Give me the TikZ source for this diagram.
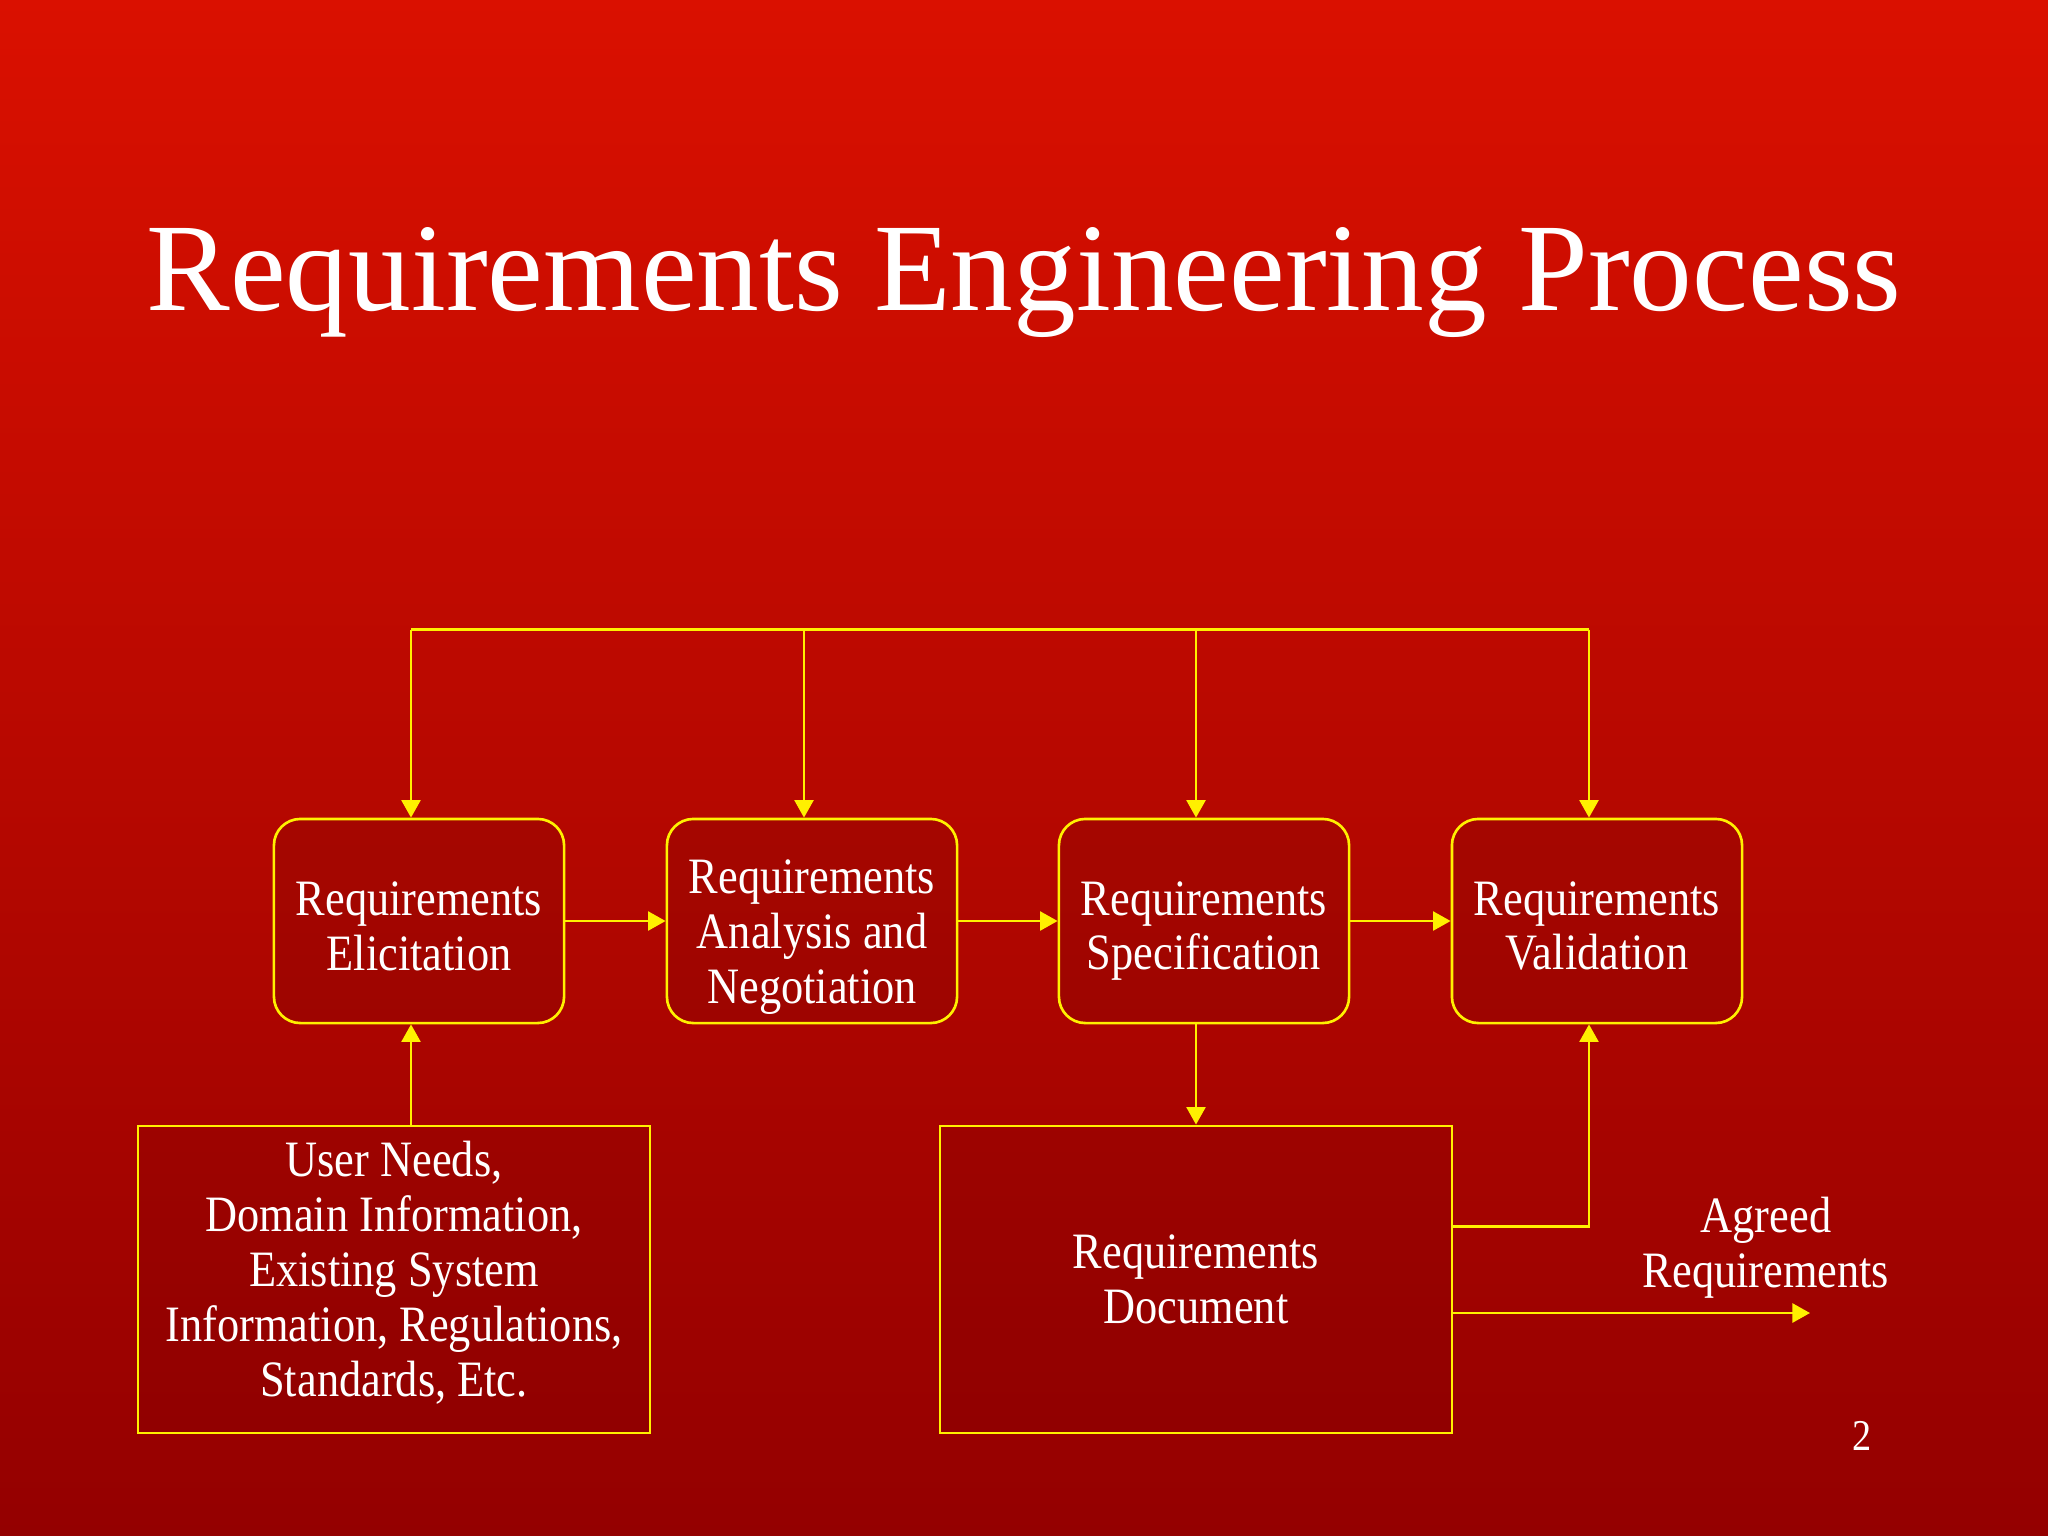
\documentclass[tikz,border=0pt]{standalone}
\usepackage{fontspec}
\setmainfont{Liberation Serif}
\newfontfamily\boxfont[FakeStretch=0.87]{Liberation Serif}
\usetikzlibrary{arrows.meta,calc}
\definecolor{bgtop}{RGB}{218,16,0}
\definecolor{bgbot}{RGB}{148,0,0}
\definecolor{ylw}{RGB}{255,240,0}
\tikzset{
  conn/.style={draw=ylw,line width=0.75pt},
  arr/.style={conn,-{Triangle[length=5pt,width=5.4pt]}},
  procbox/.style={draw=ylw,line width=0.75pt,rounded corners=7.5pt,
    fill=black,fill opacity=0.08,
    minimum width=2.9cm,minimum height=2.04cm,inner sep=0pt},
  databox/.style={draw=ylw,line width=0.75pt,
    fill=black,fill opacity=0.05,
    minimum width=5.12cm,minimum height=3.07cm,inner sep=0pt},
  plaintext/.style={text=white,align=center,inner sep=0pt,
    font=\boxfont\fontsize{14.5}{15.6}\selectfont}
}
\begin{document}
\begin{tikzpicture}[x=0.01cm,y=-0.01cm]
\useasboundingbox (0,0) rectangle (2048,1536);
\shade[top color=bgtop,bottom color=bgbot] (0,0) rectangle (2048,1536);

\node[text=white,anchor=base,inner sep=0pt,font=\fontsize{35.65}{40}\selectfont] (title) at (1024,310) {Requirements Engineering Process};

\node[procbox] (b1) at (419,921) {};
\node[procbox] (b2) at (812,921) {};
\node[procbox] (b3) at (1204,921) {};
\node[procbox] (b4) at (1597,921) {};
\node[plaintext] (b1t) at ($(b1)+(0,5)$) {Requirements\\Elicitation};
\node[plaintext] (b2t) at ($(b2)+(0,16)$) {Requirements\\Analysis and\\Negotiation};
\node[plaintext] (b3t) at ($(b3)+(0,10)$) {Requirements\\Specification};
\node[plaintext] (b4t) at ($(b4)+(0,5)$) {Requirements\\Validation};

\node[databox] (in) at (394,1279.5) {};
\node[databox] (doc) at (1196,1279.5) {};
\node[plaintext] (int) at ($(in)+(0,-7)$) {User Needs,\\Domain Information,\\Existing System\\Information, Regulations,\\Standards, Etc.};
\node[plaintext] (doct) at (doc) {Requirements\\Document};

\node[plaintext] (agreed) at (1766,1248) {Agreed\\Requirements};
\node[plaintext,font=\boxfont\fontsize{12.5}{14}\selectfont] (pnum) at (1862,1436) {2};

% top distribution line
\coordinate (t1) at ($(b1.north)+(-8,-188)$);
\coordinate (t2) at ($(b2.north)+(-8,-188)$);
\coordinate (t3) at ($(b3.north)+(-8,-188)$);
\coordinate (t4) at ($(b4.north)+(-8,-188)$);
\draw[conn] (t1) -- (t4);
\draw[arr] (t1) -- (t1 |- b1.north);
\draw[arr] (t2) -- (t2 |- b2.north);
\draw[arr] (t3) -- (t3 |- b3.north);
\draw[arr] (t4) -- (t4 |- b4.north);

% process chain
\draw[arr] (b1.east) -- (b2.west);
\draw[arr] (b2.east) -- (b3.west);
\draw[arr] (b3.east) -- (b4.west);

% inputs
\draw[arr] (in.north -| t1) -- (t1 |- b1.south);

% document
\draw[arr] (t3 |- b3.south) -- (t3 |- doc.north);
\coordinate (d1) at ($(doc.north east)+(0,102)$);
\draw[arr] (d1) -| (t4 |- b4.south);
\coordinate (ag) at (1810,1313);
\draw[arr] (doc.east |- ag) -- (ag);
\end{tikzpicture}
\end{document}
